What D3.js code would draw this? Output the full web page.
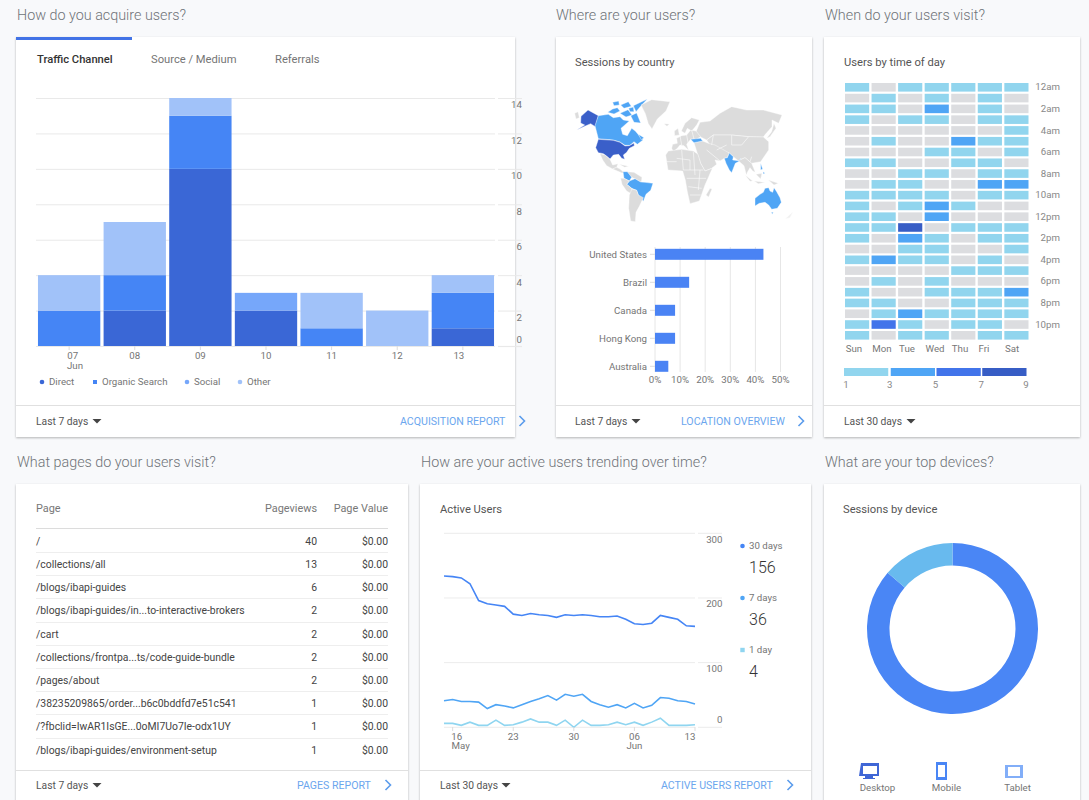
<!DOCTYPE html>
<html><head><meta charset="utf-8">
<style>
html,body{margin:0;padding:0;background:#f8f9fb;overflow:hidden}
svg{display:block}
text{font-family:Roboto,sans-serif}
.card{fill:#fff;filter:drop-shadow(0 1px 1px rgba(0,0,0,.28))}
</style>
<script src="https://cdnjs.cloudflare.com/ajax/libs/d3/7.8.5/d3.min.js"></script>
</head><body><svg id="c" width="1089" height="800"></svg>
<script>
// ---------- acquisition ----------
const acqDays = ["07","08","09","10","11","12","13"];
const acqSeriesNames = ["Direct","Organic Search","Social","Other"];
const acqDirect  = [0,2,10,2,0,0,1];
const acqOrganic = [2,2,3,0,1,0,2];
const acqSocial  = [0,0,0,1,0,0,0];
const acqOther   = [2,3,1,0,2,2,1];
const acqTicks = [0,2,4,6,8,10,12,14];
// ---------- countries ----------
const countries = ["United States","Brazil","Canada","Hong Kong","Australia"];
const countryShare = [43.2,13.6,8,8,5.3];
const shareTicks = [0,10,20,30,40,50];
// ---------- heat map: users by hour (rows) and weekday (columns) ----------
const weekdays = ["Sun","Mon","Tue","Wed","Thu","Fri","Sat"];
const hourLabels = ["12am","2am","4am","6am","8am","10am","12pm","2pm","4pm","6pm","8pm","10pm"];
const heatValues = [
[1,0,1,1,1,1,1],[0,1,0,1,0,1,0],[1,1,0,3,0,1,0],[1,0,1,1,0,1,1],
[0,0,0,0,0,0,1],[0,1,0,0,3,1,1],[0,0,0,1,1,0,1],[1,1,0,0,1,1,0],
[0,0,1,1,0,1,1],[0,1,1,0,0,3,3],[1,1,1,1,0,1,1],[1,0,1,3,1,0,0],
[1,1,0,3,0,0,0],[1,1,7,0,1,1,1],[1,0,3,1,0,1,1],[0,0,1,1,0,0,1],
[1,3,1,1,0,1,0],[0,0,0,0,1,1,1],[0,1,0,1,0,0,0],[1,0,0,1,1,1,3],
[1,1,0,0,1,1,1],[0,1,3,1,1,1,1],[1,5,1,0,1,1,0],[1,0,1,1,0,1,1]];
const heatLegend = [1,3,5,7,9];
// ---------- pages ----------
const pagePaths = ["/","/collections/all","/blogs/ibapi-guides","/blogs/ibapi-guides/in...to-interactive-brokers","/cart","/collections/frontpa...ts/code-guide-bundle","/pages/about","/38235209865/order...b6c0bddfd7e51c541","/?fbclid=IwAR1IsGE...0oMI7Uo7Ie-odx1UY","/blogs/ibapi-guides/environment-setup"];
const pageViews = [40,13,6,2,2,2,2,1,1,1];
const pageValues = ["$0.00","$0.00","$0.00","$0.00","$0.00","$0.00","$0.00","$0.00","$0.00","$0.00"];
// ---------- active users ----------
const users30 = [234,233,231,222,196,191,189,187,175,173,176,174,173,170,174,173,174,173,171,171,172,167,160,159,161,173,170,167,157,156];
const users7  = [41,43,40,40,39,29,35,33,30,35,40,44,49,42,51,48,51,40,35,31,35,30,37,30,34,46,45,41,40,36];
const users1  = [6,6,3,8,3,3,11,3,4,8,13,8,8,3,11,0,11,3,3,4,8,4,8,3,8,14,3,3,3,4];
const userTicks = [0,100,200,300];
const userTickDays = [1,8,15,22,29];
const userTickLabels = ["16","23","30","06","13"];
const userTickMonths = ["May","","","Jun",""];
const userLegend = [["30 days","156"],["7 days","36"],["1 day","4"]];
// ---------- devices ----------
const deviceNames = ["Desktop","Mobile","Tablet"];
const deviceSessions = [86.3,13.7,0];
// ---------- coarse outlines traced for the world map (grid units) ----------
const mapWest = [
 ["us",[[20,105],[44,90],[32,84],[33,64],[54,45],[85,62],[76,95],[62,86],[46,93]]],
 ["g",[[14,55],[24,50],[28,68],[18,72]]],
 ["mid",[[75,92],[85,62],[115,58],[130,68],[150,65],[160,75],[178,78],[162,92],[153,100],[158,118],[172,122],[185,100],[196,108],[206,120],[219,135],[202,148],[192,140],[180,151],[165,151],[150,141],[130,135],[85,131]]],
 ["mid",[[113,52],[128,42],[142,38],[150,48],[132,57]]],["mid",[[150,55],[174,44],[186,60],[168,66]]],
 ["mid",[[190,32],[232,12],[210,36],[198,50]]],["mid",[[152,30],[175,20],[184,34],[162,40]]],["mid",[[182,62],[200,54],[212,84],[192,82]]],
 ["mid",[[128,22],[146,18],[148,30],[132,32]]],["mid",[[176,40],[190,36],[192,50],[180,50]]],["mid",[[205,118],[222,128],[214,134]]],
 ["us",[[85,133],[130,136],[150,142],[165,153],[178,152],[192,144],[193,152],[178,160],[170,172],[160,180],[164,193],[155,190],[146,178],[130,180],[120,192],[112,185],[100,176],[85,173],[77,158]]],
 ["g",[[213,30],[245,14],[300,20],[288,48],[262,72],[246,102],[235,86],[226,56]]],
 ["g",[[282,86],[298,87],[291,94]]],
 ["g",[[90,176],[105,180],[120,193],[128,210],[144,206],[140,217],[128,222],[110,212],[98,195]]],
 ["g",[[128,222],[140,217],[150,222],[164,234],[156,234]]],
 ["g",[[148,208],[176,214],[164,217]]],
 ["g",[[170,230],[192,232],[216,247],[214,262],[196,252],[185,247]]],
 ["mid",[[159,230],[172,230],[185,247],[178,258],[162,250]]],
 ["mid",[[170,268],[178,258],[195,251],[212,261],[225,262],[249,265],[242,286],[228,298],[220,319],[205,300],[200,286],[185,280]]],
 ["g",[[152,250],[162,250],[178,258],[170,268],[185,280],[190,300],[170,288],[156,268]]],
 ["g",[[186,282],[200,286],[205,300],[220,308],[208,334],[198,352],[196,380],[182,378],[176,340],[178,300]]]
];
const mapEast = [
 ["g",[[78,110],[90,82],[120,78],[150,55],[185,35],[230,45],[280,45],[336,60],[326,85],[306,75],[306,95],[286,118],[280,126],[236,125],[185,120],[130,120],[110,135],[90,125]]],
 ["g",[[110,135],[130,120],[185,120],[236,125],[280,126],[296,140],[296,165],[272,200],[245,205],[225,188],[205,197],[190,185],[178,174],[140,165],[120,150]]],
 ["g",[[72,143],[98,138],[115,145],[135,150],[178,174],[172,188],[163,190],[150,198],[135,195],[140,208],[125,220],[105,228],[92,205],[82,175]]],
 ["g",[[5,160],[8,148],[22,145],[20,130],[35,122],[50,120],[62,105],[78,108],[92,125],[80,132],[62,133],[50,148],[56,166],[42,152],[30,150],[22,160],[10,170]]],
 ["g",[[34,108],[45,85],[65,68],[88,75],[80,90],[72,100],[65,108],[52,100],[45,115]]],
 ["g",[[13,108],[24,100],[28,120],[14,122]]],
 ["g",[[-13,180],[-5,168],[35,163],[70,168],[84,178],[92,205],[105,228],[127,220],[116,245],[105,270],[88,318],[60,326],[52,290],[46,255],[38,228],[-6,225]]],
 ["g",[[120,280],[126,282],[116,306],[108,300]]],
 ["mid",[[163,190],[172,188],[178,174],[190,185],[188,195],[205,197],[213,189],[209,198],[196,205],[185,233],[178,225],[168,205]]],
 ["g",[[205,197],[225,188],[245,205],[256,232],[248,228],[240,218],[232,232],[229,240],[222,212]]],
 ["g",[[225,240],[248,258],[240,259]]],["g",[[252,258],[285,262],[265,266]]],["g",[[258,238],[276,235],[272,252]]],["g",[[295,255],[325,265],[312,270]]],
 ["mid",[[272,205],[278,222],[272,225]]],["mid",[[280,230],[285,235],[279,237]]],
 ["g",[[312,85],[318,100],[300,125],[290,130],[305,110]]],
 ["mid",[[255,310],[270,298],[280,292],[285,280],[296,278],[300,288],[308,292],[312,278],[320,290],[330,308],[334,322],[322,340],[305,343],[296,330],[285,322],[268,325],[255,333]]],
 ["mid",[[304,352],[310,352],[307,358]]],
 ["mid",[[62,133],[92,130],[98,138],[72,143]]],
 ["faint",[[345,372],[369,350],[360,368]]]
];
const mapBorders = [
 [[20,190],[60,195],[60,225]],[[35,165],[40,225]],[[70,170],[75,240]],[[40,225],[100,225]],[[50,250],[108,250]],[[55,275],[95,280]],[[60,300],[92,300]],[[90,225],[85,285]],
 [[130,120],[125,150]],[[185,120],[185,150]],[[236,125],[215,150],[185,150]],[[140,165],[170,150]],[[30,122],[35,150]],[[50,120],[55,148]],[[110,165],[150,198]],[[240,200],[245,185]],[[65,105],[72,132]],[[-10,200],[20,200]]
];

const mapFill = {us:"#3a5fc9",mid:"#4fa5f5",g:"#dcdcdc",faint:"#f0f0f0"};
const grey="#757575", dark="#333", link="#6ba6ee";
const svg=d3.select("#c");
function T(x,y,s,o={}){return svg.append("text").attr("x",x).attr("y",y).attr("dy",".35em")
 .attr("text-anchor",o.a||"start").attr("font-size",o.s||9.7).attr("font-weight",o.w||400).attr("fill",o.f||grey).text(s);}
function H(x1,x2,y,c="#e6e6e6",w=1){svg.append("line").attr("x1",x1).attr("x2",x2).attr("y1",y).attr("y2",y).attr("stroke",c).attr("stroke-width",w);}

// section titles
[[17,15,"How do you acquire users?"],[556,15,"Where are your users?"],[825,15,"When do your users visit?"],
 [17,462,"What pages do your users visit?"],[421,462,"How are your active users trending over time?"],[825,462,"What are your top devices?"]]
 .forEach(d=>T(d[0],d[1],d[2],{s:14.35,f:"#6f7378",w:300}));
// cards + footers
[[16,37,499,400,405],[556,37,256,400,405],[824,37,256,400,405],[16,484,392,330,770],[420,484,391,330,770],[824,484,256,330,null]]
 .forEach(d=>{svg.append("rect").attr("class","card").attr("x",d[0]).attr("y",d[1]).attr("width",d[2]).attr("height",d[3]);
   if(d[4])H(d[0],d[0]+d[2],d[4]+.5,"#e0e0e0");});
svg.append("rect").attr("x",16).attr("y",37).attr("width",116).attr("height",3).attr("fill","#4273e6");
function footer(x,y,label,cx,rep,rx,chev){
 T(x,y,label,{s:10.3,f:"#555"});
 svg.append("path").attr("d",d3.line()([[cx-4.5,y-2],[cx+4.5,y-2],[cx,y+2.5]])+"Z").attr("fill","#444");
 if(rep){T(rx,y,rep,{s:10.6,f:link});
 svg.append("path").attr("d",d3.line()([[chev-2.5,y-5],[chev+2.5,y],[chev-2.5,y+5]])).attr("fill","none").attr("stroke","#5b9cec").attr("stroke-width",1.6);}
}
footer(36,421,"Last 7 days",97,"ACQUISITION REPORT",400,522);
footer(575,421,"Last 7 days",636,"LOCATION OVERVIEW",681,801);
footer(844,421,"Last 30 days",911);
footer(36,785,"Last 7 days",97,"PAGES REPORT",297,388);
footer(440,785,"Last 30 days",506,"ACTIVE USERS REPORT",661,790);

// ---- acquisition chart
T(37,59,"Traffic Channel",{s:11.2,w:500,f:dark});T(151,59,"Source / Medium",{s:11.2});T(275,59,"Referrals",{s:11.2});
const ay=d3.scaleLinear().domain([0,14]).range([346,98]);
const ax=d3.scaleBand().domain(acqDays).range([36,496]).paddingInner(.05).paddingOuter(.03);
acqTicks.forEach(t=>{H(36,495,ay(t)+.5,"#e9e9e9",t==0?1.2:1);H(498,522,ay(t)+.5,"#e9e9e9",t==0?1.2:1);});
const acqCols=["#3a67d6","#4585f5","#76a7fa","#a1c2f9"];
const rows=acqDays.map((d,i)=>({day:d,Direct:acqDirect[i],"Organic Search":acqOrganic[i],Social:acqSocial[i],Other:acqOther[i]}));
d3.stack().keys(acqSeriesNames)(rows).forEach((s,k)=>{
 svg.append("g").selectAll("rect").data(s).join("rect").attr("x",d=>ax(d.data.day)).attr("width",ax.bandwidth())
  .attr("y",d=>ay(d[1])).attr("height",d=>ay(d[0])-ay(d[1])).attr("fill",acqCols[k]);});
acqTicks.forEach(t=>T(522,t==0?340:ay(t)+7,t,{a:"end"}));
const acqLabelShift=[3.5,0,0,0,0,0,-4];
acqDays.forEach((d,i)=>{const c=ax(d)+ax.bandwidth()/2;
 svg.append("line").attr("x1",c).attr("x2",c).attr("y1",346).attr("y2",350).attr("stroke","#ddd");
 T(c+acqLabelShift[i],356,d,{a:"middle"});});
T(75,365.5,"Jun",{a:"middle"});
function mark(x,y,square,c,r=2.5){ if(square) svg.append("rect").attr("x",x-r).attr("y",y-r).attr("width",2*r).attr("height",2*r).attr("fill",c);
 else svg.append("circle").attr("cx",x).attr("cy",y).attr("r",r).attr("fill",c);}
[42,95,187,240].forEach((x,i)=>{mark(x,382,i==1,acqCols[i],i==1?2:2.3);T(x+7,382,acqSeriesNames[i]);});

// ---- map
T(575,62,"Sessions by country",{s:11.2,f:"#555"});
const borderStyle=s=>s.attr("stroke","#fff").attr("stroke-width",.4).attr("stroke-linejoin","round");
[[mapWest,570],[mapEast,670]].forEach(([polys,tx])=>{
 const path=d3.geoPath(d3.geoIdentity().scale(1/3).translate([tx,95]));
 svg.append("g").selectAll("path").data(polys).join("path")
  .attr("d",d=>path({type:"Polygon",coordinates:[[...d[1],d[1][0]]]}))
  .attr("fill",d=>mapFill[d[0]]).call(borderStyle);
 if(tx==670) svg.append("path").attr("fill","none").call(borderStyle).attr("stroke-width",.55)
  .attr("d",path({type:"MultiLineString",coordinates:mapBorders}));
});
// ---- country bars
const gx=d3.scaleLinear().domain([0,50]).range([655,780.5]);
const gy=d3.scalePoint().domain(countries).range([254.3,366.3]);
shareTicks.forEach(t=>{svg.append("line").attr("x1",gx(t)).attr("x2",gx(t)).attr("y1",247).attr("y2",372).attr("stroke","#e6e6e6");
 T(gx(t),380,t+"%",{a:"middle"});});
countries.forEach((c,i)=>{
 svg.append("line").attr("x1",650).attr("x2",655).attr("y1",gy(c)).attr("y2",gy(c)).attr("stroke","#ddd");
 svg.append("rect").attr("x",gx(0)).attr("y",gy(c)-5.5).attr("width",gx(countryShare[i])-gx(0)).attr("height",11).attr("fill","#4a83f4");
 T(647,gy(c),c,{a:"end"});});

// ---- heat map
T(844,62,"Users by time of day",{s:11.2,f:"#555"});
const hx=d3.scaleBand().domain(weekdays).range([845,1028.5]).paddingInner(.09).paddingOuter(0);
const hy=d3.scaleLinear().domain([0,23]).range([83,331]);
const hc=d3.scaleThreshold().domain(heatLegend.slice(0,4)).range(["#dcdde0","#91d5ee","#4fa5f5","#4274ea","#375dc5"]);
heatValues.forEach((r,i)=>svg.append("g").selectAll("rect").data(r).join("rect")
 .attr("x",(d,j)=>hx(weekdays[j])).attr("y",hy(i)).attr("width",hx.bandwidth()).attr("height",8.6).attr("fill",d=>hc(d)));
hourLabels.forEach((l,i)=>T(1060,hy(i*2)+4,l,{a:"end",f:"#888"}));
const dayLabelX=[854,882,907,935,960,984,1012];
weekdays.forEach((d,i)=>T(dayLabelX[i],349,d,{a:"middle",f:"#777"}));
const lx=d3.scaleLinear().domain([1,9]).range([844,1027]);
heatLegend.slice(0,4).forEach((v,i)=>{svg.append("rect").attr("x",lx(v)+(i?1:0)).attr("y",368).attr("width",lx(heatLegend[i+1])-lx(v)-1.5).attr("height",8).attr("fill",hc(v));});
heatLegend.forEach(v=>T(v==1?lx(v)+2:(v==9?lx(v)-1:lx(v)),385,v,{a:"middle",f:"#888"}));

// ---- pages table
T(36,508,"Page",{s:10.9,f:"#777"});T(317,508,"Pageviews",{a:"end",s:10.9,f:"#777"});T(388,508,"Page Value",{a:"end",s:10.9,f:"#777"});
H(36,388,528.5,"#dcdcdc");
const rowY=[541,564,587,610,634,657,680,703,726,750], ruleY=[552.5,575.5,598.5,622.5,645.5,668.5,691.5,714.5,738.5];
ruleY.forEach(y=>H(36,388,y,"#eeeeee"));
pagePaths.forEach((p,i)=>{T(36,rowY[i],p,{s:10.4,f:"#444"});T(317,rowY[i],pageViews[i],{a:"end",s:10.4,f:"#444"});T(388,rowY[i],pageValues[i],{a:"end",s:10.4,f:"#444"});});

// ---- active users
T(440,509,"Active Users",{s:11.2,f:"#555"});
const ux=d3.scaleLinear().domain([0,29]).range([444,695]);
const uy=d3.scaleLinear().domain([0,300]).range([727.3,533.3]);
userTicks.forEach(t=>{H(444,695,uy(t),"#ececec");H(698,722,uy(t),"#ececec");T(722.5,t==0?720:uy(t)+6,t,{a:"end"});});
const uline=d3.line().x((d,i)=>ux(i)).y(d=>uy(d));
[[users1,"#8fd5f0"],[users7,"#4fa5f5"],[users30,"#4585f5"]].forEach(([v,c])=>svg.append("path").attr("d",uline(v)).attr("fill","none").attr("stroke",c).attr("stroke-width",1.6));
const tickLabelShift=[4,0,0,0,-5];
userTickDays.forEach((d,i)=>{svg.append("line").attr("x1",ux(d)).attr("x2",ux(d)).attr("y1",727).attr("y2",731).attr("stroke","#ddd");
 T(ux(d)+tickLabelShift[i],737,userTickLabels[i],{a:"middle"});
 if(userTickMonths[i])T(ux(d)+(i==0?8:0),746,userTickMonths[i],{a:"middle"});});
const legY=[546,598,650], legC=["#4585f5","#4fa5f5","#8fd5f0"];
userLegend.forEach((l,i)=>{mark(742.5,legY[i],i==2,legC[i],i==2?2.2:2.3);T(749,legY[i],l[0]);T(749,legY[i]+21,l[1],{s:16,w:300,f:"#333"});});

// ---- devices
T(843,509,"Sessions by device",{s:11.2,f:"#555"});
const arc=d3.arc().innerRadius(63).outerRadius(85.5);
const deviceColors=["#4a86f5","#68baee","#7fabf8"];
svg.append("g").attr("transform","translate(952.5,628.5)").selectAll("path")
 .data(d3.pie().sort(null)(deviceSessions)).join("path").attr("d",arc).attr("fill",(d,i)=>deviceColors[i]);
const devX=[877.5,946.5,1017.5];
deviceNames.forEach((d,i)=>T(devX[i],788,d,{a:"middle"}));
// icons
svg.append("path").attr("fill-rule","evenodd").attr("fill","#3f66d6").attr("d","M861 763h18v13h-6v2h2v1h-12v-1h2v-2h-6zM863 766v8h14v-8z");
svg.append("path").attr("fill-rule","evenodd").attr("fill","#4a86f5").attr("d","M936 762h11v18h-11zM938 765v12h7v-12z");
svg.append("path").attr("fill-rule","evenodd").attr("fill","#82aef8").attr("d","M1005 765h18v13h-18zM1008 767v9h12v-9z");
</script></body></html>
